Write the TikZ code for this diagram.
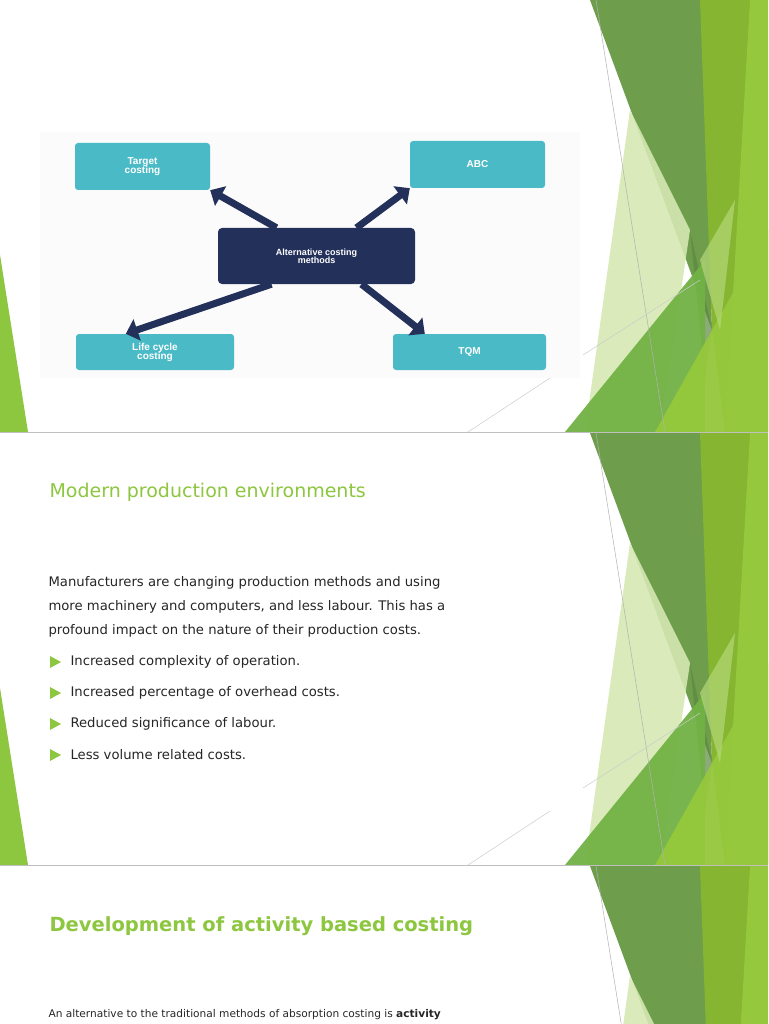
\documentclass[tikz,border=0pt]{standalone}
\usepackage{fontspec}
\setmainfont{DejaVu Sans}
\newfontfamily\arialf{Liberation Sans}
\usetikzlibrary{arrows.meta}
\definecolor{gA}{HTML}{6E9E4C}
\definecolor{gB}{HTML}{86B531}
\definecolor{gC}{HTML}{95C83C}
\definecolor{gP}{HTML}{D6E8B3}
\definecolor{gM}{HTML}{72B245}
\definecolor{gT}{HTML}{8DC63F}
\definecolor{teal}{HTML}{4ABAC6}
\definecolor{navy}{HTML}{22305A}
\tikzset{
 tbox/.style={fill=teal,rounded corners=3pt,text=white,font=\arialf\bfseries\fontsize{10}{10}\selectfont,align=center},
 nbox/.style={fill=navy,rounded corners=4pt,text=white,font=\arialf\bfseries\fontsize{9}{9}\selectfont,align=center},
 fat/.style={navy,line width=7pt,-{Triangle[length=12pt,width=22pt]}},
 body/.style={anchor=west,font=\fontsize{13.2}{16}\selectfont,text=black!85},
}
\newcommand{\deco}[1]{%
 \begin{scope}[yshift=-#1pt]
  \clip (0,0) rectangle (768,432);
  \fill[gT] (0,255) -- (28,432) -- (0,432) -- cycle;
  \fill[gA] (590,0) -- (702,0) -- (712,330) -- cycle;
  \fill[gB] (700,0) -- (752,0) -- (725,432) -- (712,330) -- cycle;
  \fill[gC] (750,0) -- (768,0) -- (768,432) -- (725,432) -- cycle;
  \fill[gP,opacity=0.9] (630,110) -- (690,230) -- (660,432) -- (585,432) -- cycle;
  \fill[gA!85!black,opacity=0.7] (690,230) -- (712,330) -- (705,380) -- cycle;
  \fill[gM,opacity=0.95] (565,432) -- (705,260) -- (705,432) -- cycle;
  \fill[gC,opacity=0.95] (655,432) -- (768,230) -- (768,432) -- cycle;
  \fill[gC!70!white,opacity=0.7] (700,260) -- (735,200) -- (720,330) -- cycle;
  \draw[gray!60,line width=0.5pt] (596,0) -- (665,432);
  \draw[gray!40,line width=0.5pt] (583,355) -- (700,280);
  \draw[gray!40,line width=0.5pt] (468,432) -- (550,378);
 \end{scope}}
\begin{document}
\begin{tikzpicture}[x=1pt,y=-1pt]
\useasboundingbox (0,0) rectangle (768,1024);
\fill[white] (0,0) rectangle (768,1024);
\deco{0}\deco{433}\deco{866}
\draw[gray!50,line width=1pt] (0,432.5) -- (768,432.5);
\draw[gray!50,line width=1pt] (0,865.5) -- (768,865.5);
% diagram
\fill[gray!3] (40,132) rectangle (580,378);
\node[tbox,minimum width=135pt,minimum height=47pt] (tc) at (142.5,166.5) {Target\\[-1pt]costing};
\node[tbox,minimum width=135pt,minimum height=47pt] (abc) at (477.5,164.5) {ABC};
\node[tbox,minimum width=158pt,minimum height=36pt] (lc) at (155,352) {Life cycle\\[-1pt]costing};
\node[tbox,minimum width=153pt,minimum height=36pt] (tqm) at (469.5,352) {TQM};
\node[nbox,minimum width=197pt,minimum height=56pt] (c) at (316.5,256) {Alternative costing\\[-1pt]methods};
\draw[fat] ([xshift=-40pt]c.north) -- (tc.south east);
\draw[fat] ([xshift=40pt]c.north) -- (abc.south west);
\draw[fat] ([xshift=-45pt]c.south) -- ([xshift=50pt]lc.north west);
\draw[fat] ([xshift=45pt]c.south) -- ([xshift=32pt]tqm.north west);
% slide 2
\node[anchor=west,text=gT,font=\fontsize{19}{22}\selectfont] (t2) at (46,492) {Modern production environments};
\node[body] (p1) at (45,583) {Manufacturers are changing production methods and using};
\node[body] (p2) at (45,607) {more machinery and computers, and less labour. This has a};
\node[body] (p3) at (45,631) {profound impact on the nature of their production costs.};
\foreach \y/\t [count=\i] in {662/Increased complexity of operation., 693/Increased percentage of overhead costs., 724/Reduced significance of labour., 755/Less volume related costs.}{
 \fill[gT] (50,\y-6) -- (61,\y) -- (50,\y+6) -- cycle;
 \node[body] (b\i) at (67,\y) {\t};
}
% slide 3
\node[anchor=west,text=gT,font=\bfseries\fontsize{19.5}{22}\selectfont] (t3) at (46,926) {Development of activity based costing};
\node[body,font=\fontsize{10.6}{12}\selectfont] (p4) at (45,1015) {An alternative to the traditional methods of absorption costing is \textbf{activity}};
\end{tikzpicture}
\end{document}
